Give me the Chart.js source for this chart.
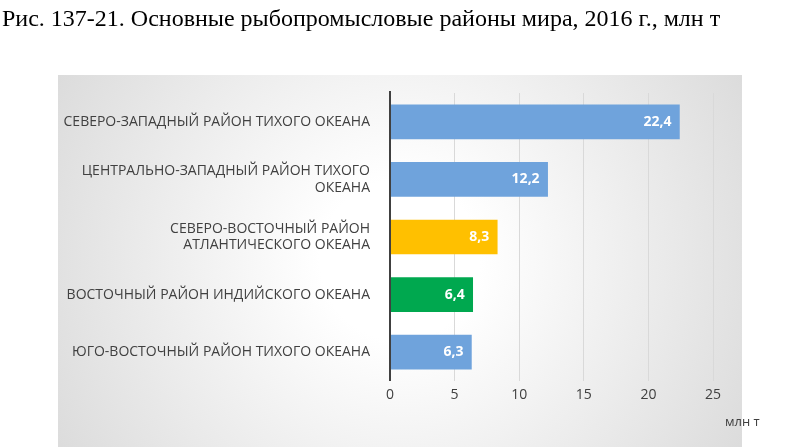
<!DOCTYPE html>
<html><head><meta charset="utf-8">
<script src="https://cdn.jsdelivr.net/npm/chart.js@4"></script>
<style>html,body{margin:0;background:#fff}canvas{display:block}</style>
</head><body>
<div style="width:800px;height:447px"><canvas id="c"></canvas></div>
<script>
const titleText = 'Рис. 137-21. Основные рыбопромысловые районы мира, 2016 г., млн т';
const regions = [
  ['СЕВЕРО-ЗАПАДНЫЙ РАЙОН ТИХОГО ОКЕАНА'],
  ['ЦЕНТРАЛЬНО-ЗАПАДНЫЙ РАЙОН ТИХОГО', 'ОКЕАНА'],
  ['СЕВЕРО-ВОСТОЧНЫЙ РАЙОН', 'АТЛАНТИЧЕСКОГО ОКЕАНА'],
  ['ВОСТОЧНЫЙ РАЙОН ИНДИЙСКОГО ОКЕАНА'],
  ['ЮГО-ВОСТОЧНЫЙ РАЙОН ТИХОГО ОКЕАНА']
];
const catch2016 = [22.4, 12.2, 8.3, 6.4, 6.3];
const barColors = ['#6fa3dc', '#6fa3dc', '#ffc000', '#00a84f', '#6fa3dc'];
const unitLabel = 'млн т';

const decor = {
  id: 'decor',
  beforeDraw(chart) {
    const ctx = chart.ctx;
    ctx.save();
    ctx.fillStyle = '#fff';
    ctx.fillRect(0, 0, chart.width, chart.height);
    const g = ctx.createRadialGradient(400, 260, 80, 400, 260, 440);
    g.addColorStop(0, '#ffffff');
    g.addColorStop(1, '#d6d6d6');
    ctx.fillStyle = g;
    ctx.fillRect(58, 75, 684, 372);
    ctx.fillStyle = '#000';
    ctx.font = '24px "Liberation Serif", serif';
    ctx.textBaseline = 'top';
    ctx.fillText(titleText, 2, 8);
    ctx.restore();
  },
  afterDraw(chart) {
    const ctx = chart.ctx, x = chart.scales.x, y = chart.scales.y;
    ctx.save();
    ctx.strokeStyle = '#404040';
    ctx.lineWidth = 2;
    ctx.beginPath();
    ctx.moveTo(x.left, y.top - 2);
    ctx.lineTo(x.left, y.bottom);
    ctx.stroke();
    ctx.fillStyle = '#404040';
    ctx.font = '13px "Open Sans", sans-serif';
    ctx.textAlign = 'left';
    ctx.textBaseline = 'middle';
    ctx.fillText(unitLabel, x.right + 12, 422);
    const meta = chart.getDatasetMeta(0);
    ctx.fillStyle = '#fff';
    ctx.font = 'bold 14px "Open Sans", sans-serif';
    ctx.textAlign = 'right';
    meta.data.forEach((bar, i) => {
      ctx.fillText(String(catch2016[i]).replace('.', ','), bar.x - 8, bar.y);
    });
    ctx.restore();
  }
};

new Chart(document.getElementById('c'), {
  type: 'bar',
  data: {
    labels: regions,
    datasets: [{ data: catch2016, backgroundColor: barColors, barThickness: 34 }]
  },
  options: {
    indexAxis: 'y',
    responsive: true,
    maintainAspectRatio: false,
    animation: false,
    layout: { padding: { top: 93, right: 87, left: 0, bottom: 0 } },
    plugins: { legend: { display: false }, tooltip: { enabled: false } },
    scales: {
      x: {
        min: 0, max: 25,
        ticks: { stepSize: 5, color: '#404040', font: { family: 'Open Sans', size: 14 }, padding: 6 },
        grid: { color: '#d9d9d9', drawTicks: false },
        border: { display: false },
        afterFit(s) { s.height = 66; }
      },
      y: {
        ticks: { color: '#404040', font: { family: 'Open Sans', size: 14 }, padding: 12 },
        grid: { display: false },
        border: { display: false },
        afterFit(s) { s.width = 390; }
      }
    }
  },
  plugins: [decor]
});
</script>
</body></html>
